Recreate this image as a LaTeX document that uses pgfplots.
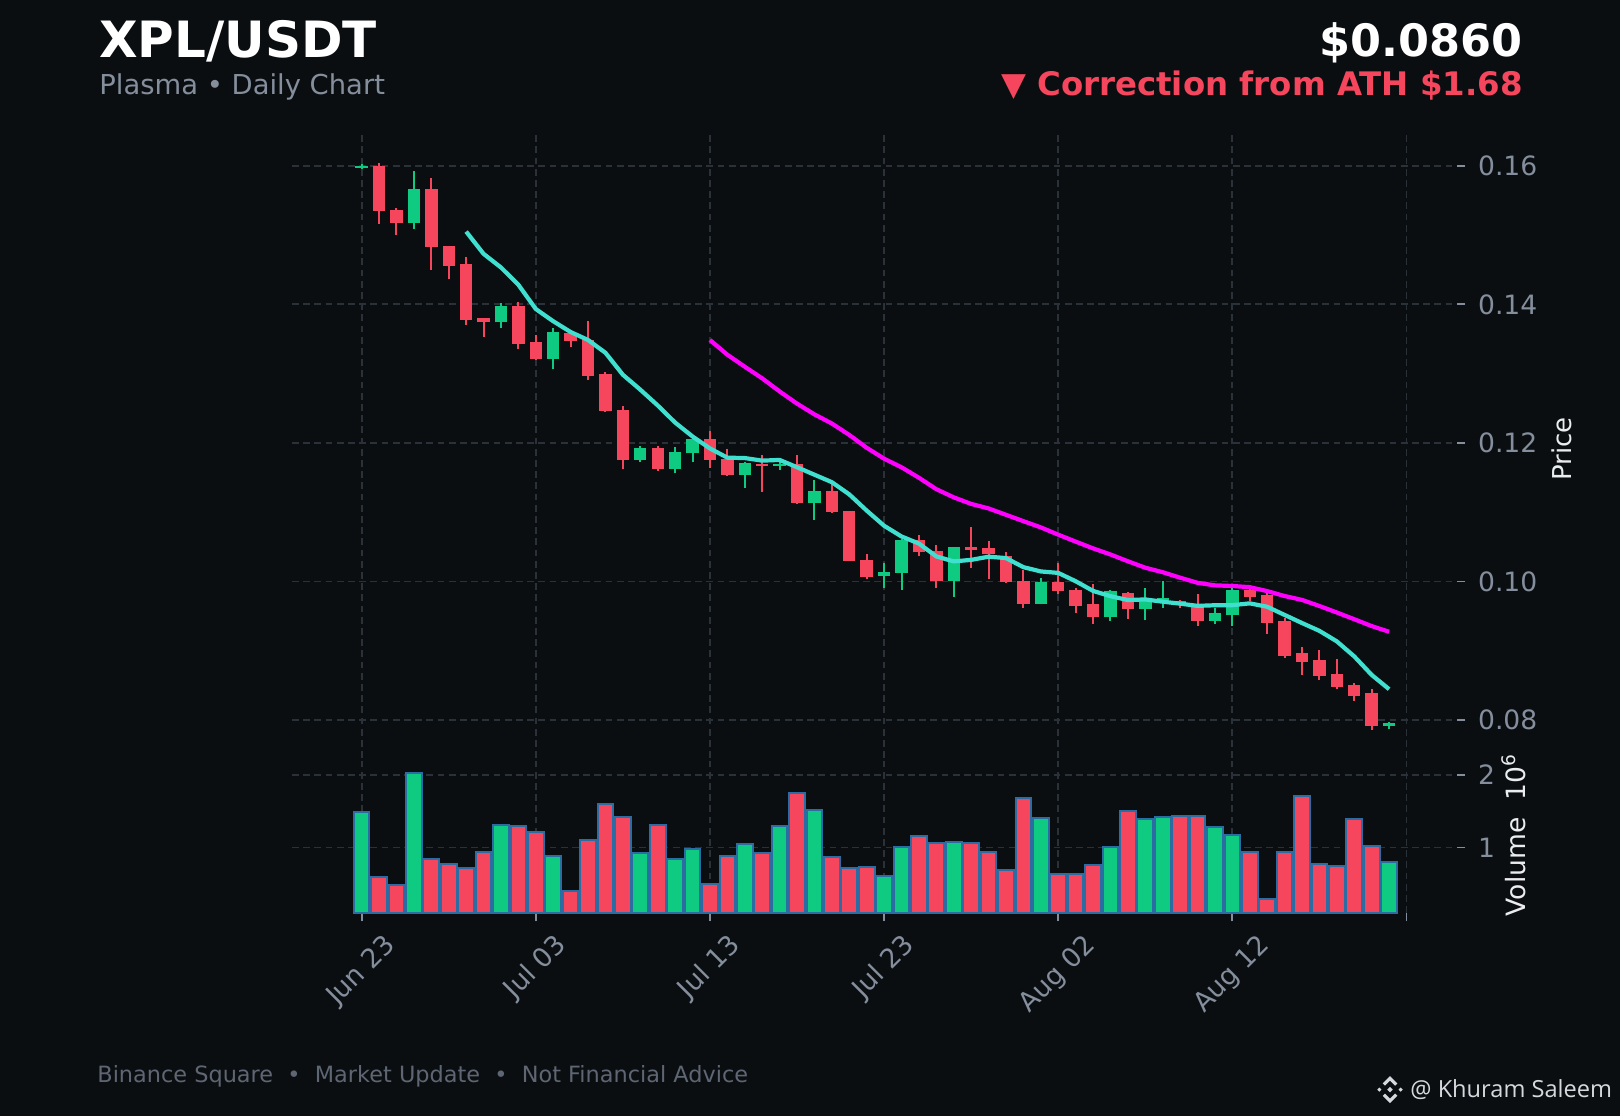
\documentclass[border=0pt]{standalone}
\usepackage{fontspec}
\setmainfont{DejaVu Sans}
\newfontfamily\osans{Open Sans}
\usepackage{graphicx}
\usepackage{pgfplots}
\usepackage{pgfplotstable}
\pgfplotsset{compat=1.18}
\definecolor{bg}{HTML}{0B0E11}
\definecolor{bgreen}{HTML}{0ECB81}
\definecolor{bred}{HTML}{F6465D}
\definecolor{gridc}{HTML}{2B3139}
\definecolor{tickc}{HTML}{848E9C}
\definecolor{footc}{HTML}{5E6673}
\definecolor{voledge}{HTML}{2B6CA3}
\definecolor{maA}{HTML}{40E0D0}
\definecolor{maB}{HTML}{FF00FF}
\definecolor{wm}{HTML}{D5D8DC}
\definecolor{lab}{HTML}{EAECEF}

\pgfplotstableread{
i O H L C V
0 .1597 .1603 .1596 .1600 1.493
3 .1518 .1593 .1509 .1566 2.027
8 .1374 .1402 .1366 .1397 1.311
11 .1321 .1366 .1306 .1360 0.886
16 .1175 .1196 .1172 .1192 0.922
18 .1162 .1194 .1157 .1187 0.845
19 .1185 .1207 .1173 .1206 0.973
22 .1153 .1173 .1135 .1171 1.050
24 .1167 .1174 .1161 .1169 1.297
26 .1113 .1147 .1089 .1131 1.516
30 .1008 .1026 .0991 .1013 0.612
31 .1012 .1061 .0988 .1060 1.009
34 .1001 .1050 .0978 .1049 1.078
39 .0968 .1005 .0967 .0999 1.406
43 .0948 .0987 .0943 .0986 1.009
45 .0960 .0990 .0944 .0974 1.393
46 .0973 .1000 .0962 .0976 1.420
49 .0943 .0962 .0938 .0954 1.283
50 .0952 .0990 .0935 .0987 1.174
59 .0791 .0797 .0787 .0796 0.804
}\greentab

\pgfplotstableread{
i O H L C V
1 .1600 .1604 .1516 .1535 0.589
2 .1537 .1539 .1500 .1518 0.489
4 .1566 .1583 .1450 .1483 0.845
5 .1484 .1485 .1436 .1456 0.776
6 .1458 .1468 .1370 .1378 0.712
7 .1380 .1381 .1353 .1375 0.941
9 .1397 .1403 .1335 .1343 1.297
10 .1346 .1356 .1320 .1321 1.219
12 .1358 .1360 .1339 .1347 0.402
13 .1348 .1376 .1291 .1297 1.110
14 .1299 .1302 .1245 .1246 1.603
15 .1248 .1253 .1162 .1175 1.420
17 .1193 .1195 .1160 .1162 1.311
20 .1206 .1217 .1164 .1176 0.502
21 .1177 .1191 .1152 .1153 0.877
23 .1170 .1183 .1129 .1166 0.927
25 .1169 .1183 .1112 .1113 1.749
27 .1131 .1140 .1099 .1100 0.872
28 .1101 .1102 .1029 .1030 0.712
29 .1031 .1040 .1004 .1007 0.737
32 .1060 .1067 .1036 .1042 1.160
33 .1044 .1053 .0991 .1001 1.064
35 .1049 .1078 .1020 .1046 1.064
36 .1048 .1058 .1004 .1039 0.941
37 .1036 .1042 .0997 .0999 0.694
38 .1001 .1017 .0962 .0968 1.680
40 .0999 .1027 .0982 .0986 0.639
41 .0988 .0990 .0954 .0965 0.639
42 .0967 .0996 .0939 .0948 0.763
44 .0983 .0985 .0946 .0960 1.502
47 .0972 .0973 .0961 .0966 1.434
48 .0968 .0982 .0936 .0943 1.434
51 .0987 .0990 .0972 .0978 0.941
52 .0980 .0984 .0924 .0940 0.297
53 .0943 .0947 .0890 .0893 0.941
54 .0896 .0905 .0865 .0884 1.708
55 .0886 .0901 .0857 .0864 0.776
56 .0866 .0888 .0844 .0848 0.749
57 .0850 .0853 .0828 .0835 1.393
58 .0839 .0845 .0786 .0791 1.023
}\redtab

\pgfplotstableread{
i m
6 .15051
7 .14730
8 .14533
9 .14283
10 .13933
11 .13757
12 .13601
13 .13486
14 .13301
15 .12984
16 .12769
17 .12541
18 .12294
19 .12093
20 .11920
21 .11787
22 .11781
23 .11744
24 .11754
25 .11649
26 .11541
27 .11433
28 .11257
29 .11023
30 .10804
31 .10649
32 .10547
33 .10361
34 .10289
35 .10311
36 .10357
37 .10337
38 .10206
39 .10144
40 .10123
41 .10003
42 .09863
43 .09787
44 .09731
45 .09740
46 .09707
47 .09679
48 .09647
49 .09656
50 .09657
51 .09683
52 .09634
53 .09516
54 .09399
55 .09286
56 .09134
57 .08917
58 .08650
59 .08444
}\maseven

\pgfplotstableread{
i m
20 .13486
21 .13273
22 .13100
23 .12932
24 .12743
25 .12567
26 .12412
27 .12280
28 .12115
29 .11930
30 .11772
31 .11648
32 .11497
33 .11332
34 .11214
35 .11119
36 .11054
37 .10962
38 .10870
39 .10780
40 .10675
41 .10575
42 .10477
43 .10389
44 .10291
45 .10198
46 .10133
47 .10054
48 .09980
49 .09943
50 .09934
51 .09917
52 .09860
53 .09789
54 .09733
55 .09645
56 .09551
57 .09454
58 .09355
59 .09273
}\matwentyone

\pgfplotsset{
  chartbase/.style={
    scale only axis, width=582.5pt,
    xmin=-4, xmax=62.9,
    axis line style={draw=none},
    grid=major,
    major grid style={draw=gridc, line width=0.9pt, dash pattern=on 3.4pt off 2.2pt},
    tick align=outside, major tick length=4pt,
    tick style={color=tickc, line width=0.9pt},
    ytick pos=right, yticklabel pos=right,
    tick label style={font=\fontsize{13.3}{16}\selectfont, text=tickc},
    yticklabel style={xshift=3pt},
    xtick={0,10,20,30,40,50,60},
  },
  wick/.style={draw=none, fill=none, mark=none, forget plot,
    error bars/y dir=plus, error bars/y explicit, error bars/error mark=none,
    error bars/error bar style={line width=1pt, draw=#1, solid}},
  body/.style={draw=none, fill=none, mark=none, forget plot,
    error bars/y dir=plus, error bars/y explicit, error bars/error mark=none,
    error bars/error bar style={line width=6.2pt, draw=#1, solid}},
}

\begin{document}
\begin{tikzpicture}
\path[use as bounding box, fill=bg] (0,0) rectangle (810pt,-558pt);

% price panel
\begin{axis}[chartbase, at={(146pt,-67pt)}, anchor=north west, height=312pt,
  ymin=0.0745, ymax=0.1646,
  ytick={0.08,0.1,0.12,0.14,0.16}, yticklabels={0.08,0.10,0.12,0.14,0.16},
  xmajorticks=false]
\addplot[wick=bgreen] table[x=i, y=L, y error plus expr={\thisrow{H}-\thisrow{L}}] {\greentab};
\addplot[wick=bred] table[x=i, y=L, y error plus expr={\thisrow{H}-\thisrow{L}}] {\redtab};
\addplot[body=bgreen] table[x=i, y expr={min(\thisrow{O},\thisrow{C})}, y error plus expr={max(abs(\thisrow{C}-\thisrow{O}),0.0002)}] {\greentab};
\addplot[body=bred] table[x=i, y expr={min(\thisrow{O},\thisrow{C})}, y error plus expr={max(abs(\thisrow{C}-\thisrow{O}),0.0002)}] {\redtab};
\addplot[maA, line width=2.1pt, mark=none, line join=round] table[x=i, y=m] {\maseven};
\addplot[maB, line width=2.1pt, mark=none, line join=round] table[x=i, y=m] {\matwentyone};
\end{axis}

% volume panel
\begin{axis}[chartbase, at={(146pt,-379pt)}, anchor=north west, height=77.5pt,
  ymin=0.1, ymax=2.23, ytick={1,2}, yticklabels={1,2},
  xtick pos=bottom,
  xticklabels={\rotatebox{45}{Jun 23},\rotatebox{45}{Jul 03},\rotatebox{45}{Jul 13},\rotatebox{45}{Jul 23},\rotatebox{45}{Aug 02},\rotatebox{45}{Aug 12},{}},
  xticklabel style={anchor=north, inner sep=0pt, yshift=-5.5pt}]
\addplot[ybar, bar shift=0pt, bar width=0.9, fill=bgreen, draw=voledge, line width=1pt] table[x=i, y=V] {\greentab};
\addplot[ybar, bar shift=0pt, bar width=0.9, fill=bred, draw=voledge, line width=1pt] table[x=i, y=V] {\redtab};
\end{axis}

% axis labels
\node[rotate=90, text=lab, font=\fontsize{13}{16}\selectfont] at (781pt,-224.5pt) {Price};
\node[rotate=90, text=lab, font=\fontsize{13.3}{16}\selectfont] at (757pt,-417.5pt) {Volume\ \ 10\textsuperscript{6}};

% header
\node[anchor=base west, inner sep=0pt, text=white, font=\fontsize{25}{30}\selectfont\bfseries] at (49.5pt,-28.5pt) {XPL/USDT};
\node[anchor=base west, inner sep=0pt, text=tickc, font=\fontsize{13.7}{16}\selectfont] at (49.5pt,-47pt) {Plasma • Daily Chart};
\node[anchor=base east, inner sep=0pt, text=white, font=\fontsize{22.3}{26}\selectfont\bfseries] at (761.5pt,-28pt) {\$0.0860};
\node[anchor=base east, inner sep=0pt, text=bred, font=\fontsize{16.2}{19}\selectfont\bfseries] at (761.5pt,-47.5pt) {▼ Correction from ATH \$1.68};

% footer
\node[anchor=base west, inner sep=0pt, text=footc, font=\fontsize{11.2}{14}\selectfont] at (48.5pt,-541pt) {Binance Square\ \ •\ \ Market Update\ \ •\ \ Not Financial Advice};
\node[anchor=base west, inner sep=0pt, text=wm, font=\osans\fontsize{11.8}{14}\selectfont] at (705pt,-548.7pt) {@ Khuram Saleem};
\begin{scope}[shift={(695pt,-544.8pt)}, x=14pt, y=14pt]
  \fill[wm] (0,0.1) -- (0.1,0) -- (0,-0.1) -- (-0.1,0) -- cycle;
  \fill[wm] (-0.38,0.075) -- (-0.305,0) -- (-0.38,-0.075) -- (-0.455,0) -- cycle;
  \fill[wm] (0.38,0.075) -- (0.455,0) -- (0.38,-0.075) -- (0.305,0) -- cycle;
  \fill[wm] (0,0.48) -- (0.26,0.22) -- (0.18,0.14) -- (0,0.32) -- (-0.18,0.14) -- (-0.26,0.22) -- cycle;
  \fill[wm] (0,-0.48) -- (0.26,-0.22) -- (0.18,-0.14) -- (0,-0.32) -- (-0.18,-0.14) -- (-0.26,-0.22) -- cycle;
\end{scope}
\end{tikzpicture}
\end{document}
